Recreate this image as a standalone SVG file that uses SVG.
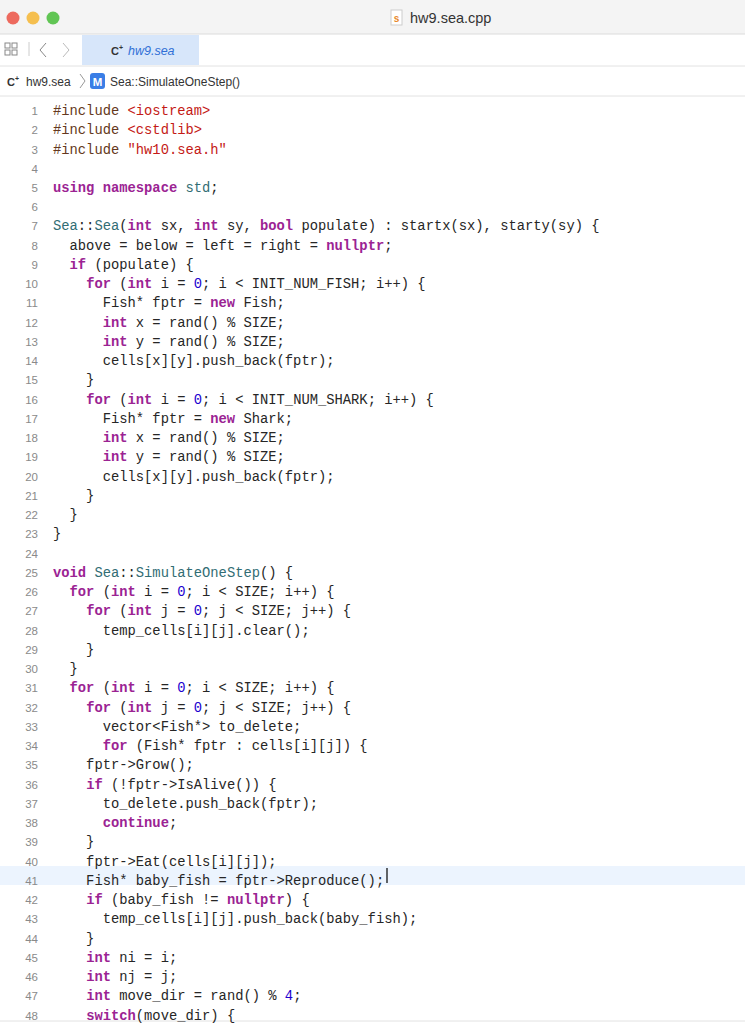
<svg xmlns="http://www.w3.org/2000/svg" width="745" height="1024" viewBox="0 0 745 1024">
<style>
.c{font-family:"Liberation Mono",monospace;font-size:13.8px;fill:#262626;white-space:pre}
.n{font-family:"Liberation Sans",sans-serif;font-size:11.5px;fill:#8a8a8a;text-anchor:end}
.k{fill:#9b2393;font-weight:bold}
.p{fill:#643820}
.s{fill:#c41a16}
.t{fill:#326d74}
.d{fill:#1c00cf}
.u{font-family:"Liberation Sans",sans-serif}
</style>
<rect width="745" height="1024" fill="#fff"/>
<rect width="745" height="34" fill="#f4f4f4"/>
<line x1="0" y1="34" x2="745" y2="34" stroke="#dcdcdc"/>
<circle cx="13" cy="18" r="6.5" fill="#ed6a5e"/>
<circle cx="33" cy="18" r="6.5" fill="#f5bf4f"/>
<circle cx="53" cy="18" r="6.5" fill="#61c554"/>
<rect x="391" y="10" width="11" height="15" fill="#fff" stroke="#ccc"/>
<text x="396.5" y="22" font-family="Liberation Sans,sans-serif" font-size="10" font-weight="bold" fill="#e8892b" text-anchor="middle">s</text>
<text x="410" y="23" class="u" font-size="14.5" fill="#333">hw9.sea.cpp</text>
<rect x="82" y="35" width="117" height="30" fill="#d7e6fa"/>
<g stroke="#888" fill="none" stroke-width="1">
<rect x="5" y="43" width="5" height="5"/><rect x="12" y="43" width="5" height="5"/><rect x="5" y="50" width="5" height="5"/><rect x="12" y="50" width="5" height="5"/>
<line x1="29" y1="42" x2="29" y2="56" stroke="#ccc"/>
<path d="M46 43 L40 50 L46 57"/><path d="M63 43 L69 50 L63 57" stroke="#bbb"/>
</g>
<text x="111" y="55" class="u" font-size="11" fill="#333" font-weight="bold">C<tspan font-size="7" dy="-5">+</tspan></text>
<text x="128" y="55" class="u" font-size="12.5" fill="#2f6fd6" font-style="italic">hw9.sea</text>
<line x1="0" y1="66" x2="745" y2="66" stroke="#e2e2e2"/>
<text x="7" y="86" class="u" font-size="11" fill="#333" font-weight="bold">C<tspan font-size="7" dy="-5">+</tspan></text>
<text x="26" y="86" class="u" font-size="12" fill="#333">hw9.sea</text>
<path d="M80 74 L85 81 L80 88" stroke="#999" fill="none"/>
<rect x="90" y="73" width="15" height="16" rx="3" fill="#3a7ee6"/>
<text x="97.5" y="86" class="u" font-size="11.5" fill="#fff" text-anchor="middle" font-weight="bold">M</text>
<text x="110" y="86" class="u" font-size="12" fill="#333">Sea::SimulateOneStep()</text>
<line x1="0" y1="96" x2="745" y2="96" stroke="#e2e2e2"/>
<rect x="0" y="866" width="745" height="19" fill="#ecf4fe"/>
<line x1="387" y1="868" x2="387" y2="883" stroke="#000" stroke-width="1.2"/>
<line x1="0" y1="1021" x2="745" y2="1021" stroke="#e2e2e2"/>
<g id="numbers" transform="translate(0,1.5)">
<text class="n" x="38" y="113">1</text><text class="n" x="38" y="132">2</text><text class="n" x="38" y="152">3</text><text class="n" x="38" y="171">4</text><text class="n" x="38" y="190">5</text><text class="n" x="38" y="209">6</text><text class="n" x="38" y="228">7</text><text class="n" x="38" y="248">8</text><text class="n" x="38" y="267">9</text><text class="n" x="38" y="286">10</text><text class="n" x="38" y="305">11</text><text class="n" x="38" y="325">12</text><text class="n" x="38" y="344">13</text><text class="n" x="38" y="363">14</text><text class="n" x="38" y="382">15</text><text class="n" x="38" y="402">16</text><text class="n" x="38" y="421">17</text><text class="n" x="38" y="440">18</text><text class="n" x="38" y="459">19</text><text class="n" x="38" y="479">20</text><text class="n" x="38" y="498">21</text><text class="n" x="38" y="517">22</text><text class="n" x="38" y="536">23</text><text class="n" x="38" y="556">24</text><text class="n" x="38" y="575">25</text><text class="n" x="38" y="594">26</text><text class="n" x="38" y="613">27</text><text class="n" x="38" y="633">28</text><text class="n" x="38" y="652">29</text><text class="n" x="38" y="671">30</text><text class="n" x="38" y="690">31</text><text class="n" x="38" y="710">32</text><text class="n" x="38" y="729">33</text><text class="n" x="38" y="748">34</text><text class="n" x="38" y="767">35</text><text class="n" x="38" y="787">36</text><text class="n" x="38" y="806">37</text><text class="n" x="38" y="825">38</text><text class="n" x="38" y="844">39</text><text class="n" x="38" y="864">40</text><text class="n" x="38" y="883" fill="#222">41</text><text class="n" x="38" y="902">42</text><text class="n" x="38" y="921">43</text><text class="n" x="38" y="941">44</text><text class="n" x="38" y="960">45</text><text class="n" x="38" y="979">46</text><text class="n" x="38" y="998">47</text><text class="n" x="38" y="1018">48</text>
</g>
<g id="code" transform="translate(0,1.5)">
<text class="c" x="53" y="113"><tspan class="p">#include </tspan><tspan class="s">&lt;iostream&gt;</tspan></text>
<text class="c" x="53" y="132"><tspan class="p">#include </tspan><tspan class="s">&lt;cstdlib&gt;</tspan></text>
<text class="c" x="53" y="152"><tspan class="p">#include </tspan><tspan class="s">"hw10.sea.h"</tspan></text>
<text class="c" x="53" y="190"><tspan class="k">using namespace</tspan> <tspan class="t">std</tspan>;</text>
<text class="c" x="53" y="228"><tspan class="t">Sea</tspan>::<tspan class="t">Sea</tspan>(<tspan class="k">int</tspan> sx, <tspan class="k">int</tspan> sy, <tspan class="k">bool</tspan> populate) : startx(sx), starty(sy) {</text>
<text class="c" x="53" y="248">  above = below = left = right = <tspan class="k">nullptr</tspan>;</text>
<text class="c" x="53" y="267">  <tspan class="k">if</tspan> (populate) {</text>
<text class="c" x="53" y="286">    <tspan class="k">for</tspan> (<tspan class="k">int</tspan> i = <tspan class="d">0</tspan>; i &lt; INIT_NUM_FISH; i++) {</text>
<text class="c" x="53" y="305">      Fish* fptr = <tspan class="k">new</tspan> Fish;</text>
<text class="c" x="53" y="325">      <tspan class="k">int</tspan> x = rand() % SIZE;</text>
<text class="c" x="53" y="344">      <tspan class="k">int</tspan> y = rand() % SIZE;</text>
<text class="c" x="53" y="363">      cells[x][y].push_back(fptr);</text>
<text class="c" x="53" y="382">    }</text>
<text class="c" x="53" y="402">    <tspan class="k">for</tspan> (<tspan class="k">int</tspan> i = <tspan class="d">0</tspan>; i &lt; INIT_NUM_SHARK; i++) {</text>
<text class="c" x="53" y="421">      Fish* fptr = <tspan class="k">new</tspan> Shark;</text>
<text class="c" x="53" y="440">      <tspan class="k">int</tspan> x = rand() % SIZE;</text>
<text class="c" x="53" y="459">      <tspan class="k">int</tspan> y = rand() % SIZE;</text>
<text class="c" x="53" y="479">      cells[x][y].push_back(fptr);</text>
<text class="c" x="53" y="498">    }</text>
<text class="c" x="53" y="517">  }</text>
<text class="c" x="53" y="536">}</text>
<text class="c" x="53" y="575"><tspan class="k">void</tspan> <tspan class="t">Sea</tspan>::<tspan class="t">SimulateOneStep</tspan>() {</text>
<text class="c" x="53" y="594">  <tspan class="k">for</tspan> (<tspan class="k">int</tspan> i = <tspan class="d">0</tspan>; i &lt; SIZE; i++) {</text>
<text class="c" x="53" y="613">    <tspan class="k">for</tspan> (<tspan class="k">int</tspan> j = <tspan class="d">0</tspan>; j &lt; SIZE; j++) {</text>
<text class="c" x="53" y="633">      temp_cells[i][j].clear();</text>
<text class="c" x="53" y="652">    }</text>
<text class="c" x="53" y="671">  }</text>
<text class="c" x="53" y="690">  <tspan class="k">for</tspan> (<tspan class="k">int</tspan> i = <tspan class="d">0</tspan>; i &lt; SIZE; i++) {</text>
<text class="c" x="53" y="710">    <tspan class="k">for</tspan> (<tspan class="k">int</tspan> j = <tspan class="d">0</tspan>; j &lt; SIZE; j++) {</text>
<text class="c" x="53" y="729">      vector&lt;Fish*&gt; to_delete;</text>
<text class="c" x="53" y="748">      <tspan class="k">for</tspan> (Fish* fptr : cells[i][j]) {</text>
<text class="c" x="53" y="767">    fptr-&gt;Grow();</text>
<text class="c" x="53" y="787">    <tspan class="k">if</tspan> (!fptr-&gt;IsAlive()) {</text>
<text class="c" x="53" y="806">      to_delete.push_back(fptr);</text>
<text class="c" x="53" y="825">      <tspan class="k">continue</tspan>;</text>
<text class="c" x="53" y="844">    }</text>
<text class="c" x="53" y="864">    fptr-&gt;Eat(cells[i][j]);</text>
<text class="c" x="53" y="883">    Fish* baby_fish = fptr-&gt;Reproduce();</text>
<text class="c" x="53" y="902">    <tspan class="k">if</tspan> (baby_fish != <tspan class="k">nullptr</tspan>) {</text>
<text class="c" x="53" y="921">      temp_cells[i][j].push_back(baby_fish);</text>
<text class="c" x="53" y="941">    }</text>
<text class="c" x="53" y="960">    <tspan class="k">int</tspan> ni = i;</text>
<text class="c" x="53" y="979">    <tspan class="k">int</tspan> nj = j;</text>
<text class="c" x="53" y="998">    <tspan class="k">int</tspan> move_dir = rand() % <tspan class="d">4</tspan>;</text>
<text class="c" x="53" y="1018">    <tspan class="k">switch</tspan>(move_dir) {</text>
</g>
</svg>
